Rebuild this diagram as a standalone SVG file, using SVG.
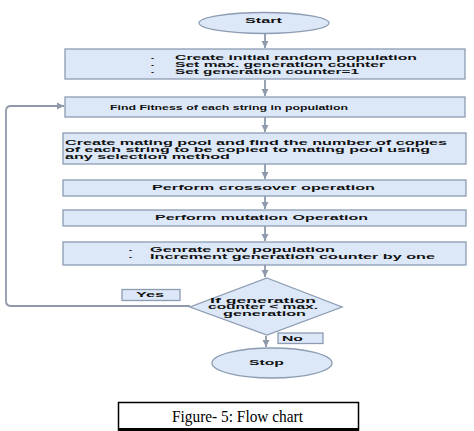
<svg xmlns="http://www.w3.org/2000/svg" width="474" height="431" viewBox="0 0 474 431">
<defs>
<style>
.n{fill:#dce8f8;stroke:#8c9cb2;stroke-width:1.3}
.t{font-family:"Liberation Sans",Arial,sans-serif;font-weight:bold;font-size:7.5px;fill:#111}
.m{font-family:"Liberation Sans",Arial,sans-serif;font-weight:bold;font-size:6.5px;fill:#111}
.c{fill:none;stroke:#8e9aaa;stroke-width:1.8}
.cap{font-family:"Liberation Serif","Times New Roman",serif;font-size:16px;fill:#000}
</style>
<marker id="ah" viewBox="0 0 10 10" refX="10" refY="5" markerWidth="4" markerHeight="4" orient="auto" markerUnits="strokeWidth">
<path d="M0,0 L10,5 L0,10 z" fill="#8e9aaa"/>
</marker>
</defs>
<rect width="474" height="431" fill="#fff"/>
<g id="connectors">
<line class="c" x1="265" y1="34" x2="265" y2="48" marker-end="url(#ah)"/>
<line class="c" x1="265" y1="80" x2="265" y2="96" marker-end="url(#ah)"/>
<line class="c" x1="265" y1="117" x2="265" y2="132" marker-end="url(#ah)"/>
<line class="c" x1="265" y1="164" x2="265" y2="179" marker-end="url(#ah)"/>
<line class="c" x1="265" y1="196" x2="265" y2="209" marker-end="url(#ah)"/>
<line class="c" x1="265" y1="226" x2="265" y2="241" marker-end="url(#ah)"/>
<line class="c" x1="265" y1="265" x2="265" y2="277" marker-end="url(#ah)"/>
<line class="c" x1="266" y1="336" x2="266" y2="347" marker-end="url(#ah)"/>
<path class="c" d="M190,306 H11 Q6,306 6,301 V111 Q6,106 11,106 H64" marker-end="url(#ah)"/>
</g>
<g id="start">
<ellipse class="n" cx="264" cy="23" rx="65" ry="10.5"/>
<text class="t" x="263.5" y="22.5" text-anchor="middle" textLength="37" lengthAdjust="spacingAndGlyphs">Start</text>
</g>
<g id="init">
<rect class="n" x="65" y="49" width="400" height="30"/>
<text class="m" x="151" y="60" textLength="3" lengthAdjust="spacingAndGlyphs">-</text>
<text class="m" x="151" y="67" textLength="3" lengthAdjust="spacingAndGlyphs">-</text>
<text class="m" x="151" y="74" textLength="3" lengthAdjust="spacingAndGlyphs">-</text>
<text class="m" x="175" y="60" textLength="242" lengthAdjust="spacingAndGlyphs">Create initial random population</text>
<text class="m" x="175" y="67" textLength="210" lengthAdjust="spacingAndGlyphs">Set max. generation counter</text>
<text class="m" x="175" y="74" textLength="184" lengthAdjust="spacingAndGlyphs">Set generation counter=1</text>
</g>
<g id="fitness">
<rect class="n" x="65" y="97" width="400" height="20"/>
<text class="t" x="110" y="109.5" textLength="238" lengthAdjust="spacingAndGlyphs">Find Fitness of each string in population</text>
</g>
<g id="mating">
<rect class="n" x="63" y="133" width="403" height="31"/>
<text class="m" x="65" y="144.5" textLength="382" lengthAdjust="spacingAndGlyphs">Create mating pool and find the number of copies</text>
<text class="m" x="65" y="152" textLength="365" lengthAdjust="spacingAndGlyphs">of each string to be copied to mating pool using</text>
<text class="m" x="65" y="159.3" textLength="165" lengthAdjust="spacingAndGlyphs">any selection method</text>
</g>
<g id="crossover">
<rect class="n" x="63" y="180" width="403" height="16"/>
<text class="t" x="152" y="190" textLength="223" lengthAdjust="spacingAndGlyphs">Perform crossover  operation</text>
</g>
<g id="mutation">
<rect class="n" x="63" y="210" width="403" height="16"/>
<text class="t" x="155" y="220.3" textLength="213" lengthAdjust="spacingAndGlyphs">Perform mutation Operation</text>
</g>
<g id="newpop">
<rect class="n" x="63" y="242" width="403" height="23"/>
<text class="m" x="129" y="251.5" textLength="3" lengthAdjust="spacingAndGlyphs">-</text>
<text class="m" x="129" y="259" textLength="3" lengthAdjust="spacingAndGlyphs">-</text>
<text class="m" x="150" y="251.5" textLength="185" lengthAdjust="spacingAndGlyphs">Genrate new population</text>
<text class="m" x="150" y="259" textLength="285" lengthAdjust="spacingAndGlyphs">Increment generation counter by one</text>
</g>
<g id="decision">
<polygon class="n" points="267,278 342,307 267,335 190,307"/>
<text class="m" x="263" y="302.5" text-anchor="middle" textLength="106" lengthAdjust="spacingAndGlyphs">If generation</text>
<text class="m" x="263" y="309.3" text-anchor="middle" textLength="110" lengthAdjust="spacingAndGlyphs">counter &lt; max.</text>
<text class="m" x="264.5" y="316.2" text-anchor="middle" textLength="83" lengthAdjust="spacingAndGlyphs">generation</text>
</g>
<g id="yes">
<rect class="n" x="122" y="289.5" width="58" height="11"/>
<text class="t" x="150" y="296.8" text-anchor="middle" textLength="28" lengthAdjust="spacingAndGlyphs">Yes</text>
</g>
<g id="no">
<rect class="n" x="278" y="333" width="45" height="10.5"/>
<text class="t" x="292.5" y="341.3" text-anchor="middle" textLength="21" lengthAdjust="spacingAndGlyphs">No</text>
</g>
<g id="stop">
<ellipse class="n" cx="272" cy="363" rx="60" ry="15"/>
<text class="t" x="266.5" y="365.3" text-anchor="middle" textLength="35" lengthAdjust="spacingAndGlyphs">Stop</text>
</g>
<g id="caption">
<rect x="118.5" y="402.5" width="240" height="27.5" fill="#fff" stroke="#000" stroke-width="1.5"/>
<line x1="118" y1="429.5" x2="359" y2="429.5" stroke="#000" stroke-width="3"/>
<text class="cap" x="172" y="422" textLength="131" lengthAdjust="spacingAndGlyphs">Figure- 5: Flow chart</text>
</g>
</svg>
